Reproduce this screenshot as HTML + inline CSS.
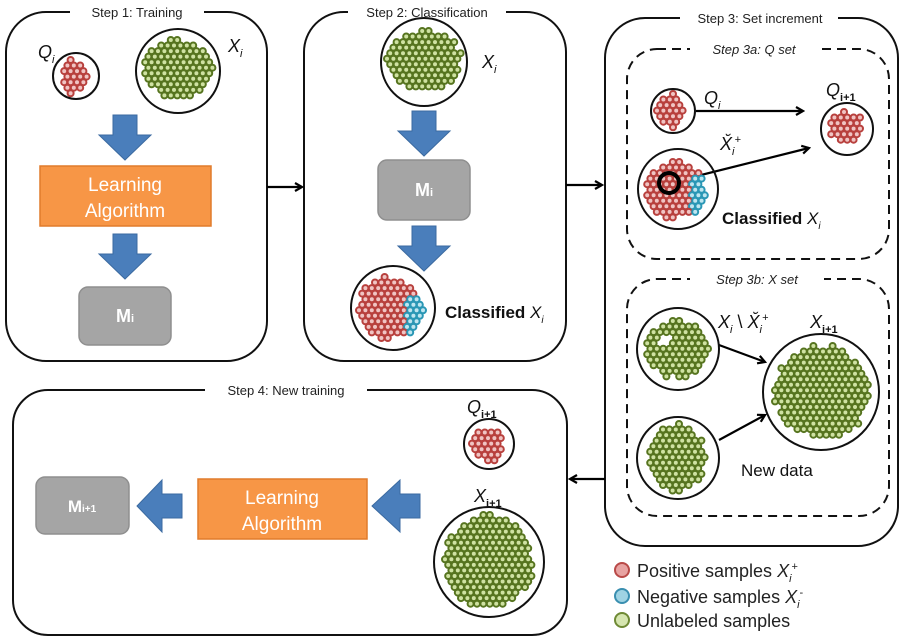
<!DOCTYPE html>
<html><head><meta charset="utf-8"><style>
html,body{margin:0;padding:0;background:#fff;}
svg{display:block;font-family:"Liberation Sans",sans-serif;}
.t{font-size:13px;fill:#222;}
.it{font-style:italic;}
</style></head><body>
<svg id="s" width="908" height="641" viewBox="0 0 908 641" xmlns="http://www.w3.org/2000/svg">
<defs>
<marker id="ah" markerWidth="10" markerHeight="10" refX="8" refY="5" orient="auto" markerUnits="userSpaceOnUse">
<path d="M1,1 L8,5 L1,9" fill="none" stroke="#000" stroke-width="2.2"/></marker>
</defs>
<g fill="none" stroke="#111" stroke-width="2">
<rect x="6" y="12" width="261" height="349" rx="40"/>
<rect x="304" y="12" width="262" height="349" rx="40"/>
<rect x="605" y="18" width="293" height="528" rx="40"/>
<rect x="13" y="390" width="554" height="245" rx="35"/>
</g>
<g fill="none" stroke="#111" stroke-width="2" stroke-dasharray="9,6">
<rect x="627" y="49" width="262" height="210" rx="30"/>
<rect x="627" y="279" width="262" height="237" rx="30"/>
</g>
<g fill="#fff">
<rect x="70" y="4" width="134" height="16"/>
<rect x="348" y="4" width="158" height="16"/>
<rect x="680" y="10" width="158" height="16"/>
<rect x="205" y="382" width="162" height="16"/>
<rect x="690" y="41" width="128" height="16"/>
<rect x="690" y="271" width="134" height="16"/>
</g>
<text class="t" x="137" y="17" text-anchor="middle">Step 1: Training</text>
<text class="t" x="427" y="17" text-anchor="middle">Step 2: Classification</text>
<text class="t" x="760" y="23" text-anchor="middle">Step 3: Set increment</text>
<text class="t" x="286" y="395" text-anchor="middle">Step 4: New training</text>
<text class="t it" x="754" y="54" text-anchor="middle">Step 3a: Q set</text>
<text class="t it" x="757" y="284" text-anchor="middle">Step 3b: X set</text>

<g stroke="#000" stroke-width="2.2" fill="none" marker-end="url(#ah)">
<line x1="267" y1="187" x2="302" y2="187"/>
<line x1="566" y1="185" x2="602" y2="185"/>
<line x1="605" y1="479" x2="570" y2="479"/>
<line x1="696" y1="111" x2="803" y2="111"/>
<line x1="669" y1="183" x2="809" y2="148"/>
<line x1="719" y1="345" x2="765" y2="362"/>
<line x1="719" y1="440" x2="765" y2="415"/>
</g>

<g fill="#4a7ebb" stroke="#3b6aa0" stroke-width="1">
<path d="M113,115 h24 v20 h14 l-26,25 l-26,-25 h14 z"/>
<path d="M113,234 h24 v20 h14 l-26,25 l-26,-25 h14 z"/>
<path d="M412,111 h24 v20 h14 l-26,25 l-26,-25 h14 z"/>
<path d="M412,226 h24 v20 h14 l-26,25 l-26,-25 h14 z"/>
<path d="M420,494 v24 h-20 v14 l-28,-26 l28,-26 v14 z"/>
<path d="M182,494 v24 h-20 v14 l-25,-26 l25,-26 v14 z"/>
</g>
<g fill="#f79646" stroke="#e07b2c" stroke-width="1.5">
<rect x="40" y="166" width="171" height="60"/>
<rect x="198" y="479" width="169" height="60"/>
</g>
<g fill="#fff" font-size="19" text-anchor="middle">
<text x="125" y="191">Learning</text><text x="125" y="217">Algorithm</text>
<text x="282" y="504">Learning</text><text x="282" y="530">Algorithm</text>
</g>
<g fill="#a5a5a5" stroke="#8f8f8f" stroke-width="1.5">
<rect x="79" y="287" width="92" height="58" rx="9"/>
<rect x="378" y="160" width="92" height="60" rx="9"/>
<rect x="36" y="477" width="93" height="57" rx="9"/>
</g>
<g fill="#fff" font-weight="bold" text-anchor="middle">
<text x="125" y="322" font-size="18">M<tspan font-size="11">i</tspan></text>
<text x="424" y="196" font-size="18">M<tspan font-size="11">i</tspan></text>
<text x="82" y="512" font-size="17">M<tspan font-size="10">i+1</tspan></text>
</g>

<g id="dots"></g>
<g fill="none" stroke="#111" stroke-width="2">
<ellipse cx="76" cy="76" rx="23" ry="23"/>
<ellipse cx="178" cy="71" rx="42" ry="42"/>
<ellipse cx="424" cy="62" rx="43" ry="44"/>
<ellipse cx="393" cy="308" rx="42" ry="42"/>
<ellipse cx="673" cy="111" rx="22" ry="22"/>
<ellipse cx="847" cy="129" rx="26" ry="26"/>
<ellipse cx="678" cy="189" rx="40" ry="40"/>
<ellipse cx="678" cy="349" rx="41" ry="41"/>
<ellipse cx="821" cy="392" rx="58" ry="58"/>
<ellipse cx="678" cy="458" rx="41" ry="41"/>
<ellipse cx="489" cy="444" rx="25" ry="25"/>
<ellipse cx="489" cy="562" rx="55" ry="55"/>
</g>
<circle cx="669" cy="183" r="10" fill="none" stroke="#000" stroke-width="4"/>

<g font-size="18" fill="#111" font-style="italic">
<text x="38" y="58">Q<tspan font-size="11" dy="5">i</tspan></text>
<text x="228" y="52">X<tspan font-size="11" dy="5">i</tspan></text>
<text x="482" y="68">X<tspan font-size="11" dy="5">i</tspan></text>
<text x="704" y="104">Q<tspan font-size="11" dy="5">i</tspan></text>
<text x="826" y="96">Q<tspan font-size="11" dy="5" font-style="normal" font-weight="bold">i+1</tspan></text>
<text x="720" y="150">X̆<tspan font-size="11" dy="5">i</tspan><tspan font-size="11" dy="-12">+</tspan></text>
<text x="718" y="328">X<tspan font-size="11" dy="5">i</tspan><tspan dy="-5" font-style="normal"> \ </tspan>X̆<tspan font-size="11" dy="5">i</tspan><tspan font-size="11" dy="-12">+</tspan></text>
<text x="810" y="328">X<tspan font-size="11" dy="5" font-style="normal" font-weight="bold">i+1</tspan></text>
<text x="467" y="413">Q<tspan font-size="11" dy="5" font-style="normal" font-weight="bold">i+1</tspan></text>
<text x="474" y="502">X<tspan font-size="11" dy="5" font-style="normal" font-weight="bold">i+1</tspan></text>
</g>
<g font-size="17" fill="#111">
<text x="445" y="318" font-weight="bold">Classified <tspan font-style="italic" font-weight="normal">X</tspan><tspan font-size="10" dy="5" font-style="italic" font-weight="normal">i</tspan></text>
<text x="722" y="224" font-weight="bold">Classified <tspan font-style="italic" font-weight="normal">X</tspan><tspan font-size="10" dy="5" font-style="italic" font-weight="normal">i</tspan></text>
<text x="741" y="476">New data</text>
</g>
<g stroke-width="2">
<circle cx="622" cy="570" r="7" fill="#e8a3a2" stroke="#b94a48"/>
<circle cx="622" cy="596" r="7" fill="#9fd3e3" stroke="#3a8fb0"/>
<circle cx="622" cy="620" r="7" fill="#d6e6b0" stroke="#6f8a35"/>
</g>
<g font-size="18" fill="#222">
<text x="637" y="577">Positive samples <tspan font-style="italic">X</tspan><tspan font-size="11" dy="5" font-style="italic">i</tspan><tspan font-size="11" dy="-12">+</tspan></text>
<text x="637" y="603">Negative samples <tspan font-style="italic">X</tspan><tspan font-size="11" dy="5" font-style="italic">i</tspan><tspan font-size="11" dy="-12">-</tspan></text>
<text x="637" y="627">Unlabeled samples</text>
</g>
</svg>
<script>
(function(){
var g=document.getElementById('dots'),NS='http://www.w3.org/2000/svg';
var C={r:['#b8403d','#f0c4c3'],b:['#2a97b5','#bfe6f0'],g:['#56741f','#cfe2a2']};
function cl(cx,cy,rx,ry,col,test){
 var sp=6.4,h=sp*0.866;
 for(var y=cy-ry;y<=cy+ry;y+=h){
  var row=Math.round((y-cy)/h);
  for(var x=cx-rx+(row%2?sp/2:0);x<=cx+rx;x+=sp){
   var dx=(x-cx)/rx,dy=(y-cy)/ry;
   var n=Math.sin(x*0.7+y*1.3)*0.08;
   if(dx*dx+dy*dy>1+n)continue;
   var c=col; if(test){c=test(x,y); if(!c)continue;}
   var e=document.createElementNS(NS,'circle');
   e.setAttribute('cx',x.toFixed(1));e.setAttribute('cy',y.toFixed(1));e.setAttribute('r','3');
   e.setAttribute('fill',C[c][1]);e.setAttribute('stroke',C[c][0]);e.setAttribute('stroke-width','2');
   g.appendChild(e);
  }
 }
}
cl(74,77,13,17,'r');
cl(178,69,36,29,'g');
cl(424,61,37,30,'g');
cl(391,308,32,31,'r',function(x,y){return (x>405&&y>296)?'b':'r';});
cl(671,111,14,17,'r');
cl(846,128,18,16,'r');
cl(675,190,31,28,'r',function(x,y){return (x>690&&y>178)?'b':'r';});
cl(676,349,32,28,'g',function(x,y){var a=x-666,b=y-340;return (a*a+b*b<50)?null:'g';});
cl(822,392,47,46,'g');
cl(676,458,29,34,'g');
cl(488,444,16,17,'r');
cl(489,562,44,47,'g');
})();
</script>
</body></html>
